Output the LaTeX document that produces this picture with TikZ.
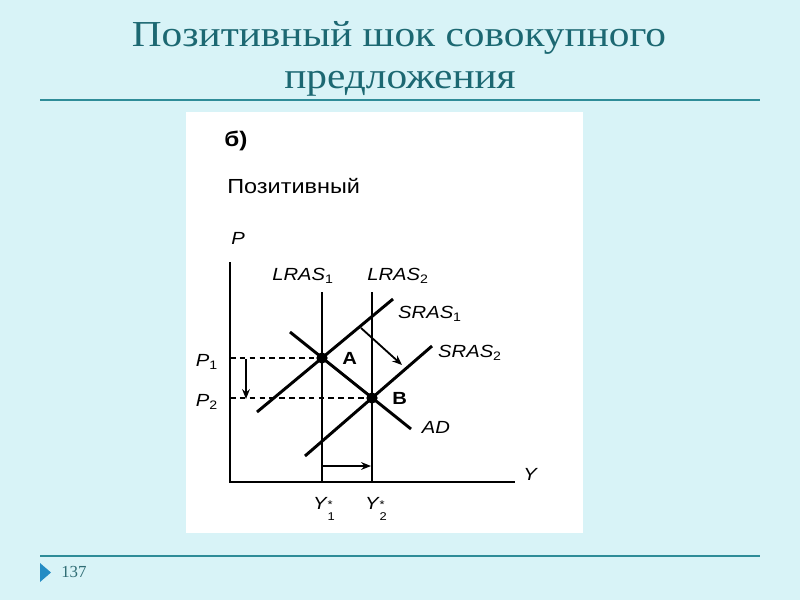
\documentclass[tikz,border=0pt]{standalone}
\usepackage{fontspec}
\setmainfont{Liberation Serif}
\newfontfamily\titlefont[FakeStretch=1.13]{Liberation Serif}
\newfontfamily\grsans[FakeStretch=1.15]{Liberation Sans}
\usetikzlibrary{arrows, arrows.meta, positioning}
\definecolor{slidebg}{RGB}{216,243,247}
\definecolor{titleteal}{RGB}{28,104,114}
\definecolor{ruleteal}{RGB}{46,140,152}
\definecolor{markblue}{RGB}{36,140,196}
\newcommand{\starsub}[1]{\kern0.6pt\raisebox{-1.1ex}{\fontsize{8}{10}\selectfont\upshape\shortstack[l]{*\\#1}}}

\begin{document}
\begin{tikzpicture}[x=0.025cm, y=-0.025cm]
	\tikzset {>={Stealth[length=7pt, width=5.5pt]}, curve/.style={line width=2.1pt}, guide/.style={line width=1pt, dash pattern=on 4pt off 3pt}, move/.style={->, line width=1.3pt}, lbl/.style={font=\grsans\fontsize{12.5}{14}\selectfont\itshape, inner sep=0pt}, pt/.style={circle, fill, inner sep=0pt, minimum size=8pt} }

	% slide
	\fill[slidebg] (0,0) rectangle (800,600);
	\useasboundingbox (0,0) rectangle (800,600);
	\node[font=\titlefont\fontsize{26}{30}\selectfont, text=titleteal, anchor=base] (t1) at (399,46) {Позитивный шок совокупного};
	\node[font=\titlefont\fontsize{26}{30}\selectfont, text=titleteal, anchor=base] (t2) at (400,88) {предложения};
	\coordinate (r1l) at (40,100); \coordinate (r1r) at (760,100);
	\coordinate (r2l) at (40,556); \coordinate (r2r) at (760,556);
	\draw[ruleteal, line width=1pt] (r1l) -- (r1r);
	\draw[ruleteal, line width=1pt] (r2l) -- (r2r);
	\fill[markblue] (40,563) -- (51,572.5) -- (40,582) -- cycle;
	\node[font=\fontsize{12}{14}\selectfont, text=titleteal!80!gray, anchor=west, inner sep=0pt] (pg) at (61,572) {137};

	% graph
	\fill[white] (186,112) rectangle (583,533);
	\node[font=\grsans\bfseries\fontsize{15}{17}\selectfont, inner sep=0pt] (b) at (236,141) {б)};
	\node[font=\grsans\fontsize{14.5}{16}\selectfont, inner sep=0pt, anchor=base west] (pos) at (227,193) {Позитивный};

	\coordinate (o) at (230,482);
	\coordinate (ytop) at (230,262);
	\coordinate (xend) at (515,482);
	\draw[curve] (ytop) -- (o) -- (xend);
	\node[lbl] (P) at (238,238) {P};
	\node[lbl] (Y) at (530,474) {Y};

	\node[pt] (A) at (322,358) {};
	\node[pt] (B) at (372,398) {};

	\coordinate (l1t) at (322,292); \coordinate (l1b) at (322,482);
	\coordinate (l2t) at (372,292); \coordinate (l2b) at (372,482);
	\coordinate (s1a) at (257,412); \coordinate (s1b) at (393,299);
	\coordinate (s2a) at (305,456); \coordinate (s2b) at (432,346);
	\coordinate (ada) at (290,332); \coordinate (adb) at (411,429);
	\draw[curve] (l1t) -- (l1b);
	\draw[curve] (l2t) -- (l2b);
	\draw[curve] (s1a) -- (s1b);
	\draw[curve] (s2a) -- (s2b);
	\draw[curve] (ada) -- (adb);

	\coordinate (p1) at (230,358); \coordinate (p2) at (230,398);
	\draw[guide] (p1) -- (A);
	\draw[guide] (p2) -- (B);

	\coordinate (sh1) at (361,328); \coordinate (sh2) at (402,365);
	\coordinate (dn1) at (246,359); \coordinate (dn2) at (246,399);
	\coordinate (rt1) at (323,466); \coordinate (rt2) at (371,466);
	\draw[move] (sh1) -- (sh2);
	\draw[move] (dn1) -- (dn2);
	\draw[move] (rt1) -- (rt2);

	\node[lbl] (lr1) at (303,276) {LRAS\textsubscript{\upshape 1}};
	\node[lbl] (lr2) at (398,276) {LRAS\textsubscript{\upshape 2}};
	\node[lbl] (sr1) at (430,314) {SRAS\textsubscript{\upshape 1}};
	\node[lbl] (sr2) at (470,353) {SRAS\textsubscript{\upshape 2}};
	\node[lbl] (ad) at (436,427) {AD};
	\node[lbl, font=\grsans\bfseries\fontsize{12.5}{14}\selectfont, right=10pt of A] (Alab) {A};
	\node[lbl, font=\grsans\bfseries\fontsize{12.5}{14}\selectfont, right=10pt of B] (Blab) {B};
	\node[lbl] (P1) at (207,362) {P\textsubscript{\upshape 1}};
	\node[lbl] (P2) at (207,402) {P\textsubscript{\upshape 2}};
	\node[lbl] (Y1) at (324,509) {Y\starsub{1}};
	\node[lbl] (Y2) at (376,509) {Y\starsub{2}};
\end{tikzpicture}
\end{document}
